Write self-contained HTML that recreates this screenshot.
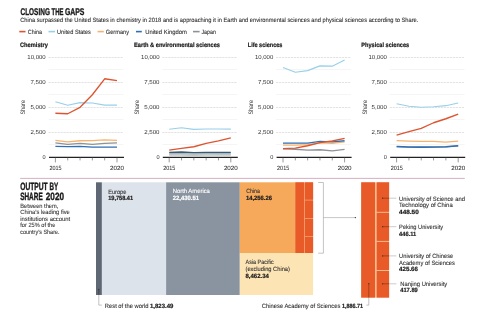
<!DOCTYPE html>
<html><head><meta charset="utf-8"><style>
html,body{margin:0;padding:0;background:#fff;width:500px;height:319px;overflow:hidden}
svg{display:block;font-family:"Liberation Sans", sans-serif;text-rendering:geometricPrecision;will-change:transform}
</style></head><body>
<svg width="500" height="319" viewBox="0 0 500 319">
<rect width="500" height="319" fill="#fff"/>
<text x="20.50" y="14.90" font-size="9.7" font-weight="700" fill="#1a1a1a" text-anchor="start" textLength="29.40" lengthAdjust="spacingAndGlyphs" stroke="#1a1a1a" stroke-width="0.35">CLOSING</text>
<text x="51.60" y="14.90" font-size="9.7" font-weight="700" fill="#1a1a1a" text-anchor="start" textLength="11.90" lengthAdjust="spacingAndGlyphs" stroke="#1a1a1a" stroke-width="0.35">THE</text>
<text x="64.90" y="14.90" font-size="9.7" font-weight="700" fill="#1a1a1a" text-anchor="start" textLength="19.60" lengthAdjust="spacingAndGlyphs" stroke="#1a1a1a" stroke-width="0.35">GAPS</text>
<text x="20.20" y="21.70" font-size="6.2" font-weight="400" fill="#333333" text-anchor="start" textLength="398.20" lengthAdjust="spacingAndGlyphs" stroke="#333333" stroke-width="0.1">China surpassed the United States in chemistry in 2018 and is approaching it in Earth and environmental sciences and physical sciences according to Share.</text>
<line x1="19.30" y1="31.60" x2="25.50" y2="31.60" stroke="#dd5530" stroke-width="1.6"/>
<text x="27.80" y="33.70" font-size="6.2" font-weight="400" fill="#333333" text-anchor="start" textLength="14.20" lengthAdjust="spacingAndGlyphs" stroke="#333333" stroke-width="0.1">China</text>
<line x1="48.50" y1="31.60" x2="55.00" y2="31.60" stroke="#98d0ea" stroke-width="1.6"/>
<text x="57.00" y="33.70" font-size="6.2" font-weight="400" fill="#333333" text-anchor="start" textLength="33.90" lengthAdjust="spacingAndGlyphs" stroke="#333333" stroke-width="0.1">United States</text>
<line x1="97.60" y1="31.60" x2="103.80" y2="31.60" stroke="#f5b46e" stroke-width="1.6"/>
<text x="105.80" y="33.70" font-size="6.2" font-weight="400" fill="#333333" text-anchor="start" textLength="23.20" lengthAdjust="spacingAndGlyphs" stroke="#333333" stroke-width="0.1">Germany</text>
<line x1="136.00" y1="31.60" x2="141.80" y2="31.60" stroke="#2f6fb3" stroke-width="1.6"/>
<text x="145.20" y="33.70" font-size="6.2" font-weight="400" fill="#333333" text-anchor="start" textLength="41.70" lengthAdjust="spacingAndGlyphs" stroke="#333333" stroke-width="0.1">United Kingdom</text>
<line x1="193.00" y1="31.60" x2="199.60" y2="31.60" stroke="#8d9298" stroke-width="1.6"/>
<text x="201.40" y="33.70" font-size="6.2" font-weight="400" fill="#333333" text-anchor="start" textLength="14.60" lengthAdjust="spacingAndGlyphs" stroke="#333333" stroke-width="0.1">Japan</text>
<text x="20.00" y="46.90" font-size="6.3" font-weight="700" fill="#1a1a1a" text-anchor="start" textLength="27.90" lengthAdjust="spacingAndGlyphs" stroke="#1a1a1a" stroke-width="0.2">Chemistry</text>
<line x1="48.50" y1="144.50" x2="123.40" y2="144.50" stroke="#f1f1f1" stroke-width="0.7"/>
<line x1="48.50" y1="119.50" x2="123.40" y2="119.50" stroke="#f1f1f1" stroke-width="0.7"/>
<line x1="48.50" y1="94.50" x2="123.40" y2="94.50" stroke="#f1f1f1" stroke-width="0.7"/>
<line x1="48.50" y1="69.50" x2="123.40" y2="69.50" stroke="#f1f1f1" stroke-width="0.7"/>
<line x1="48.50" y1="132.50" x2="123.40" y2="132.50" stroke="#c4c4c4" stroke-width="0.5" stroke-dasharray="2.2 0.8"/>
<line x1="48.50" y1="107.50" x2="123.40" y2="107.50" stroke="#c4c4c4" stroke-width="0.5" stroke-dasharray="2.2 0.8"/>
<line x1="48.50" y1="82.50" x2="123.40" y2="82.50" stroke="#c4c4c4" stroke-width="0.5" stroke-dasharray="2.2 0.8"/>
<line x1="48.50" y1="57.50" x2="123.40" y2="57.50" stroke="#c4c4c4" stroke-width="0.5" stroke-dasharray="2.2 0.8"/>
<text x="45.70" y="59.00" font-size="5.9" font-weight="400" fill="#333333" text-anchor="end" textLength="18.40" lengthAdjust="spacingAndGlyphs">10,000</text>
<text x="45.70" y="84.10" font-size="5.9" font-weight="400" fill="#333333" text-anchor="end" textLength="15.30" lengthAdjust="spacingAndGlyphs">7,500</text>
<text x="45.70" y="109.20" font-size="5.9" font-weight="400" fill="#333333" text-anchor="end" textLength="15.30" lengthAdjust="spacingAndGlyphs">5,000</text>
<text x="45.70" y="134.30" font-size="5.9" font-weight="400" fill="#333333" text-anchor="end" textLength="15.30" lengthAdjust="spacingAndGlyphs">2,500</text>
<text x="45.70" y="159.40" font-size="5.9" font-weight="400" fill="#333333" text-anchor="end" textLength="3.10" lengthAdjust="spacingAndGlyphs">0</text>
<text x="25.40" y="107.30" font-size="6.4" font-weight="400" fill="#333333" text-anchor="middle" textLength="14.40" lengthAdjust="spacingAndGlyphs" transform="rotate(-90 25.40 107.3)">Share</text>
<polyline points="55.40,140.33 67.72,141.84 80.04,140.73 92.36,140.53 104.68,139.93 117.00,140.33" fill="none" stroke="#f5b46e" stroke-width="1.3" stroke-linejoin="round"/>
<polyline points="55.40,146.36 67.72,146.66 80.04,146.36 92.36,147.16 104.68,147.16 117.00,147.16" fill="none" stroke="#2f6fb3" stroke-width="1.4" stroke-linejoin="round"/>
<polyline points="55.40,142.84 67.72,144.35 80.04,143.34 92.36,144.35 104.68,143.34 117.00,142.84" fill="none" stroke="#8d9298" stroke-width="1.3" stroke-linejoin="round"/>
<polyline points="55.40,101.68 67.72,105.19 80.04,102.68 92.36,102.98 104.68,105.19 117.00,105.19" fill="none" stroke="#98d0ea" stroke-width="1.15" stroke-linejoin="round"/>
<polyline points="55.40,113.22 67.72,113.73 80.04,107.30 92.36,94.75 104.68,78.79 117.00,80.69" fill="none" stroke="#dd5530" stroke-width="1.35" stroke-linejoin="round"/>
<line x1="49.00" y1="157.40" x2="124.00" y2="157.40" stroke="#222" stroke-width="1.1"/>
<line x1="55.40" y1="157.40" x2="55.40" y2="162.40" stroke="#555" stroke-width="0.6"/>
<line x1="67.72" y1="157.40" x2="67.72" y2="160.40" stroke="#555" stroke-width="0.6"/>
<line x1="80.04" y1="157.40" x2="80.04" y2="160.40" stroke="#555" stroke-width="0.6"/>
<line x1="92.36" y1="157.40" x2="92.36" y2="160.40" stroke="#555" stroke-width="0.6"/>
<line x1="104.68" y1="157.40" x2="104.68" y2="160.40" stroke="#555" stroke-width="0.6"/>
<line x1="117.00" y1="157.40" x2="117.00" y2="162.40" stroke="#555" stroke-width="0.6"/>
<text x="49.50" y="169.50" font-size="6.1" font-weight="400" fill="#333333" text-anchor="start" textLength="12.10" lengthAdjust="spacingAndGlyphs" stroke="#333333" stroke-width="0.05">2015</text>
<text x="110.10" y="169.50" font-size="6.1" font-weight="400" fill="#333333" text-anchor="start" textLength="13.90" lengthAdjust="spacingAndGlyphs" stroke="#333333" stroke-width="0.05">2020</text>
<text x="134.00" y="46.90" font-size="6.3" font-weight="700" fill="#1a1a1a" text-anchor="start" textLength="86.00" lengthAdjust="spacingAndGlyphs" stroke="#1a1a1a" stroke-width="0.2">Earth &amp; environmental sciences</text>
<line x1="162.30" y1="144.50" x2="237.20" y2="144.50" stroke="#f1f1f1" stroke-width="0.7"/>
<line x1="162.30" y1="119.50" x2="237.20" y2="119.50" stroke="#f1f1f1" stroke-width="0.7"/>
<line x1="162.30" y1="94.50" x2="237.20" y2="94.50" stroke="#f1f1f1" stroke-width="0.7"/>
<line x1="162.30" y1="69.50" x2="237.20" y2="69.50" stroke="#f1f1f1" stroke-width="0.7"/>
<line x1="162.30" y1="132.50" x2="237.20" y2="132.50" stroke="#c4c4c4" stroke-width="0.5" stroke-dasharray="2.2 0.8"/>
<line x1="162.30" y1="107.50" x2="237.20" y2="107.50" stroke="#c4c4c4" stroke-width="0.5" stroke-dasharray="2.2 0.8"/>
<line x1="162.30" y1="82.50" x2="237.20" y2="82.50" stroke="#c4c4c4" stroke-width="0.5" stroke-dasharray="2.2 0.8"/>
<line x1="162.30" y1="57.50" x2="237.20" y2="57.50" stroke="#c4c4c4" stroke-width="0.5" stroke-dasharray="2.2 0.8"/>
<text x="159.50" y="59.00" font-size="5.9" font-weight="400" fill="#333333" text-anchor="end" textLength="18.40" lengthAdjust="spacingAndGlyphs">10,000</text>
<text x="159.50" y="84.10" font-size="5.9" font-weight="400" fill="#333333" text-anchor="end" textLength="15.30" lengthAdjust="spacingAndGlyphs">7,500</text>
<text x="159.50" y="109.20" font-size="5.9" font-weight="400" fill="#333333" text-anchor="end" textLength="15.30" lengthAdjust="spacingAndGlyphs">5,000</text>
<text x="159.50" y="134.30" font-size="5.9" font-weight="400" fill="#333333" text-anchor="end" textLength="15.30" lengthAdjust="spacingAndGlyphs">2,500</text>
<text x="159.50" y="159.40" font-size="5.9" font-weight="400" fill="#333333" text-anchor="end" textLength="3.10" lengthAdjust="spacingAndGlyphs">0</text>
<text x="139.20" y="107.30" font-size="6.4" font-weight="400" fill="#333333" text-anchor="middle" textLength="14.40" lengthAdjust="spacingAndGlyphs" transform="rotate(-90 139.20 107.3)">Share</text>
<polyline points="169.20,154.99 181.52,155.09 193.84,155.19 206.16,155.09 218.48,154.99 230.80,154.99" fill="none" stroke="#c3c6c2" stroke-width="1.4" stroke-linejoin="round"/>
<polyline points="169.20,153.69 181.52,153.79 193.84,153.99 206.16,153.79 218.48,153.69 230.80,153.69" fill="none" stroke="#a6b8c3" stroke-width="1.4" stroke-linejoin="round"/>
<polyline points="169.20,152.38 181.52,151.98 193.84,152.68 206.16,152.38 218.48,152.28 230.80,152.28" fill="none" stroke="#3e5a6e" stroke-width="1.3" stroke-linejoin="round"/>
<polyline points="169.20,129.29 181.52,127.78 193.84,129.39 206.16,128.99 218.48,128.99 230.80,129.19" fill="none" stroke="#98d0ea" stroke-width="1.15" stroke-linejoin="round"/>
<polyline points="169.20,150.17 181.52,148.36 193.84,146.76 206.16,143.34 218.48,140.83 230.80,137.82" fill="none" stroke="#dd5530" stroke-width="1.35" stroke-linejoin="round"/>
<line x1="162.80" y1="157.40" x2="237.80" y2="157.40" stroke="#222" stroke-width="1.1"/>
<line x1="169.20" y1="157.40" x2="169.20" y2="162.40" stroke="#555" stroke-width="0.6"/>
<line x1="181.52" y1="157.40" x2="181.52" y2="160.40" stroke="#555" stroke-width="0.6"/>
<line x1="193.84" y1="157.40" x2="193.84" y2="160.40" stroke="#555" stroke-width="0.6"/>
<line x1="206.16" y1="157.40" x2="206.16" y2="160.40" stroke="#555" stroke-width="0.6"/>
<line x1="218.48" y1="157.40" x2="218.48" y2="160.40" stroke="#555" stroke-width="0.6"/>
<line x1="230.80" y1="157.40" x2="230.80" y2="162.40" stroke="#555" stroke-width="0.6"/>
<text x="163.30" y="169.50" font-size="6.1" font-weight="400" fill="#333333" text-anchor="start" textLength="12.10" lengthAdjust="spacingAndGlyphs" stroke="#333333" stroke-width="0.05">2015</text>
<text x="223.90" y="169.50" font-size="6.1" font-weight="400" fill="#333333" text-anchor="start" textLength="13.90" lengthAdjust="spacingAndGlyphs" stroke="#333333" stroke-width="0.05">2020</text>
<text x="247.80" y="46.90" font-size="6.3" font-weight="700" fill="#1a1a1a" text-anchor="start" textLength="34.60" lengthAdjust="spacingAndGlyphs" stroke="#1a1a1a" stroke-width="0.2">Life sciences</text>
<line x1="276.10" y1="144.50" x2="351.00" y2="144.50" stroke="#f1f1f1" stroke-width="0.7"/>
<line x1="276.10" y1="119.50" x2="351.00" y2="119.50" stroke="#f1f1f1" stroke-width="0.7"/>
<line x1="276.10" y1="94.50" x2="351.00" y2="94.50" stroke="#f1f1f1" stroke-width="0.7"/>
<line x1="276.10" y1="69.50" x2="351.00" y2="69.50" stroke="#f1f1f1" stroke-width="0.7"/>
<line x1="276.10" y1="132.50" x2="351.00" y2="132.50" stroke="#c4c4c4" stroke-width="0.5" stroke-dasharray="2.2 0.8"/>
<line x1="276.10" y1="107.50" x2="351.00" y2="107.50" stroke="#c4c4c4" stroke-width="0.5" stroke-dasharray="2.2 0.8"/>
<line x1="276.10" y1="82.50" x2="351.00" y2="82.50" stroke="#c4c4c4" stroke-width="0.5" stroke-dasharray="2.2 0.8"/>
<line x1="276.10" y1="57.50" x2="351.00" y2="57.50" stroke="#c4c4c4" stroke-width="0.5" stroke-dasharray="2.2 0.8"/>
<text x="273.30" y="59.00" font-size="5.9" font-weight="400" fill="#333333" text-anchor="end" textLength="18.40" lengthAdjust="spacingAndGlyphs">10,000</text>
<text x="273.30" y="84.10" font-size="5.9" font-weight="400" fill="#333333" text-anchor="end" textLength="15.30" lengthAdjust="spacingAndGlyphs">7,500</text>
<text x="273.30" y="109.20" font-size="5.9" font-weight="400" fill="#333333" text-anchor="end" textLength="15.30" lengthAdjust="spacingAndGlyphs">5,000</text>
<text x="273.30" y="134.30" font-size="5.9" font-weight="400" fill="#333333" text-anchor="end" textLength="15.30" lengthAdjust="spacingAndGlyphs">2,500</text>
<text x="273.30" y="159.40" font-size="5.9" font-weight="400" fill="#333333" text-anchor="end" textLength="3.10" lengthAdjust="spacingAndGlyphs">0</text>
<text x="253.00" y="107.30" font-size="6.4" font-weight="400" fill="#333333" text-anchor="middle" textLength="14.40" lengthAdjust="spacingAndGlyphs" transform="rotate(-90 253.00 107.3)">Share</text>
<polyline points="283.00,145.05 295.32,145.05 307.64,144.75 319.96,142.84 332.28,143.34 344.60,141.84" fill="none" stroke="#f5b46e" stroke-width="1.3" stroke-linejoin="round"/>
<polyline points="283.00,143.14 295.32,143.14 307.64,143.14 319.96,141.34 332.28,141.84 344.60,140.73" fill="none" stroke="#2f6fb3" stroke-width="1.4" stroke-linejoin="round"/>
<polyline points="283.00,148.97 295.32,149.27 307.64,150.07 319.96,149.77 332.28,150.87 344.60,149.37" fill="none" stroke="#8d9298" stroke-width="1.3" stroke-linejoin="round"/>
<polyline points="283.00,67.54 295.32,72.26 307.64,70.65 319.96,65.84 332.28,66.14 344.60,60.01" fill="none" stroke="#98d0ea" stroke-width="1.15" stroke-linejoin="round"/>
<polyline points="283.00,148.67 295.32,148.16 307.64,145.75 319.96,142.64 332.28,141.03 344.60,138.32" fill="none" stroke="#dd5530" stroke-width="1.35" stroke-linejoin="round"/>
<line x1="276.60" y1="157.40" x2="351.60" y2="157.40" stroke="#222" stroke-width="1.1"/>
<line x1="283.00" y1="157.40" x2="283.00" y2="162.40" stroke="#555" stroke-width="0.6"/>
<line x1="295.32" y1="157.40" x2="295.32" y2="160.40" stroke="#555" stroke-width="0.6"/>
<line x1="307.64" y1="157.40" x2="307.64" y2="160.40" stroke="#555" stroke-width="0.6"/>
<line x1="319.96" y1="157.40" x2="319.96" y2="160.40" stroke="#555" stroke-width="0.6"/>
<line x1="332.28" y1="157.40" x2="332.28" y2="160.40" stroke="#555" stroke-width="0.6"/>
<line x1="344.60" y1="157.40" x2="344.60" y2="162.40" stroke="#555" stroke-width="0.6"/>
<text x="277.10" y="169.50" font-size="6.1" font-weight="400" fill="#333333" text-anchor="start" textLength="12.10" lengthAdjust="spacingAndGlyphs" stroke="#333333" stroke-width="0.05">2015</text>
<text x="337.70" y="169.50" font-size="6.1" font-weight="400" fill="#333333" text-anchor="start" textLength="13.90" lengthAdjust="spacingAndGlyphs" stroke="#333333" stroke-width="0.05">2020</text>
<text x="361.30" y="46.90" font-size="6.3" font-weight="700" fill="#1a1a1a" text-anchor="start" textLength="47.90" lengthAdjust="spacingAndGlyphs" stroke="#1a1a1a" stroke-width="0.2">Physical sciences</text>
<line x1="389.70" y1="144.50" x2="464.60" y2="144.50" stroke="#f1f1f1" stroke-width="0.7"/>
<line x1="389.70" y1="119.50" x2="464.60" y2="119.50" stroke="#f1f1f1" stroke-width="0.7"/>
<line x1="389.70" y1="94.50" x2="464.60" y2="94.50" stroke="#f1f1f1" stroke-width="0.7"/>
<line x1="389.70" y1="69.50" x2="464.60" y2="69.50" stroke="#f1f1f1" stroke-width="0.7"/>
<line x1="389.70" y1="132.50" x2="464.60" y2="132.50" stroke="#c4c4c4" stroke-width="0.5" stroke-dasharray="2.2 0.8"/>
<line x1="389.70" y1="107.50" x2="464.60" y2="107.50" stroke="#c4c4c4" stroke-width="0.5" stroke-dasharray="2.2 0.8"/>
<line x1="389.70" y1="82.50" x2="464.60" y2="82.50" stroke="#c4c4c4" stroke-width="0.5" stroke-dasharray="2.2 0.8"/>
<line x1="389.70" y1="57.50" x2="464.60" y2="57.50" stroke="#c4c4c4" stroke-width="0.5" stroke-dasharray="2.2 0.8"/>
<text x="386.90" y="59.00" font-size="5.9" font-weight="400" fill="#333333" text-anchor="end" textLength="18.40" lengthAdjust="spacingAndGlyphs">10,000</text>
<text x="386.90" y="84.10" font-size="5.9" font-weight="400" fill="#333333" text-anchor="end" textLength="15.30" lengthAdjust="spacingAndGlyphs">7,500</text>
<text x="386.90" y="109.20" font-size="5.9" font-weight="400" fill="#333333" text-anchor="end" textLength="15.30" lengthAdjust="spacingAndGlyphs">5,000</text>
<text x="386.90" y="134.30" font-size="5.9" font-weight="400" fill="#333333" text-anchor="end" textLength="15.30" lengthAdjust="spacingAndGlyphs">2,500</text>
<text x="386.90" y="159.40" font-size="5.9" font-weight="400" fill="#333333" text-anchor="end" textLength="3.10" lengthAdjust="spacingAndGlyphs">0</text>
<text x="366.60" y="107.30" font-size="6.4" font-weight="400" fill="#333333" text-anchor="middle" textLength="14.40" lengthAdjust="spacingAndGlyphs" transform="rotate(-90 366.60 107.3)">Share</text>
<polyline points="396.60,146.76 408.92,147.26 421.24,147.36 433.56,147.26 445.88,146.96 458.20,145.95" fill="none" stroke="#8d9298" stroke-width="1.2" stroke-linejoin="round"/>
<polyline points="396.60,140.53 408.92,141.03 421.24,141.34 433.56,141.34 445.88,142.04 458.20,141.03" fill="none" stroke="#f5b46e" stroke-width="1.2" stroke-linejoin="round"/>
<polyline points="396.60,146.56 408.92,147.06 421.24,147.16 433.56,147.06 445.88,146.76 458.20,145.75" fill="none" stroke="#2f6fb3" stroke-width="1.6" stroke-linejoin="round"/>
<polyline points="396.60,103.69 408.92,106.20 421.24,107.20 433.56,106.70 445.88,105.69 458.20,102.98" fill="none" stroke="#98d0ea" stroke-width="1.15" stroke-linejoin="round"/>
<polyline points="396.60,135.11 408.92,131.70 421.24,128.38 433.56,122.76 445.88,118.75 458.20,114.03" fill="none" stroke="#dd5530" stroke-width="1.35" stroke-linejoin="round"/>
<line x1="390.20" y1="157.40" x2="465.20" y2="157.40" stroke="#222" stroke-width="1.1"/>
<line x1="396.60" y1="157.40" x2="396.60" y2="162.40" stroke="#555" stroke-width="0.6"/>
<line x1="408.92" y1="157.40" x2="408.92" y2="160.40" stroke="#555" stroke-width="0.6"/>
<line x1="421.24" y1="157.40" x2="421.24" y2="160.40" stroke="#555" stroke-width="0.6"/>
<line x1="433.56" y1="157.40" x2="433.56" y2="160.40" stroke="#555" stroke-width="0.6"/>
<line x1="445.88" y1="157.40" x2="445.88" y2="160.40" stroke="#555" stroke-width="0.6"/>
<line x1="458.20" y1="157.40" x2="458.20" y2="162.40" stroke="#555" stroke-width="0.6"/>
<text x="390.70" y="169.50" font-size="6.1" font-weight="400" fill="#333333" text-anchor="start" textLength="12.10" lengthAdjust="spacingAndGlyphs" stroke="#333333" stroke-width="0.05">2015</text>
<text x="451.30" y="169.50" font-size="6.1" font-weight="400" fill="#333333" text-anchor="start" textLength="13.90" lengthAdjust="spacingAndGlyphs" stroke="#333333" stroke-width="0.05">2020</text>
<line x1="20.10" y1="178.40" x2="464.80" y2="178.40" stroke="#cc9cb0" stroke-width="0.8"/>
<text x="20.20" y="189.90" font-size="10.6" font-weight="700" fill="#1a1a1a" text-anchor="start" textLength="27.50" lengthAdjust="spacingAndGlyphs" stroke="#1a1a1a" stroke-width="0.4">OUTPUT</text>
<text x="49.60" y="189.90" font-size="10.6" font-weight="700" fill="#1a1a1a" text-anchor="start" textLength="8.70" lengthAdjust="spacingAndGlyphs" stroke="#1a1a1a" stroke-width="0.4">BY</text>
<text x="20.20" y="200.20" font-size="10.6" font-weight="700" fill="#1a1a1a" text-anchor="start" textLength="22.50" lengthAdjust="spacingAndGlyphs" stroke="#1a1a1a" stroke-width="0.4">SHARE</text>
<text x="45.80" y="200.20" font-size="10.6" font-weight="700" fill="#1a1a1a" text-anchor="start" textLength="18.20" lengthAdjust="spacingAndGlyphs" stroke="#1a1a1a" stroke-width="0.4">2020</text>
<text x="20.30" y="207.60" font-size="6.2" font-weight="400" fill="#333333" text-anchor="start" textLength="38.00" lengthAdjust="spacingAndGlyphs" stroke="#333333" stroke-width="0.08">Between them,</text>
<text x="20.30" y="214.30" font-size="6.2" font-weight="400" fill="#333333" text-anchor="start" textLength="49.50" lengthAdjust="spacingAndGlyphs" stroke="#333333" stroke-width="0.08">China’s leading five</text>
<text x="20.30" y="220.80" font-size="6.2" font-weight="400" fill="#333333" text-anchor="start" textLength="49.90" lengthAdjust="spacingAndGlyphs" stroke="#333333" stroke-width="0.08">institutions account</text>
<text x="20.30" y="227.30" font-size="6.2" font-weight="400" fill="#333333" text-anchor="start" textLength="35.10" lengthAdjust="spacingAndGlyphs" stroke="#333333" stroke-width="0.08">for 25% of the</text>
<text x="20.30" y="234.00" font-size="6.2" font-weight="400" fill="#333333" text-anchor="start" textLength="39.20" lengthAdjust="spacingAndGlyphs" stroke="#333333" stroke-width="0.08">country’s Share.</text>
<rect x="96.00" y="182.30" width="5.90" height="112.70" fill="#5e6773"/>
<rect x="101.90" y="182.30" width="64.20" height="112.70" fill="#dde3ea"/>
<rect x="166.10" y="182.30" width="73.70" height="112.70" fill="#8a94a0"/>
<rect x="239.80" y="182.30" width="55.50" height="70.70" fill="#f6a95b"/>
<rect x="239.80" y="253.00" width="73.30" height="42.00" fill="#fde4b4"/>
<rect x="295.30" y="182.30" width="17.80" height="70.70" fill="#f6a878"/>
<rect x="295.30" y="182.30" width="8.80" height="70.70" fill="#e85b29"/>
<rect x="304.90" y="182.30" width="8.20" height="17.45" fill="#e85b29"/>
<rect x="304.90" y="200.45" width="8.20" height="17.60" fill="#e85b29"/>
<rect x="304.90" y="218.75" width="8.20" height="17.30" fill="#e85b29"/>
<rect x="304.90" y="236.75" width="8.20" height="16.25" fill="#e85b29"/>
<text x="108.20" y="193.60" font-size="6.2" font-weight="400" fill="#333333" text-anchor="start" textLength="18.20" lengthAdjust="spacingAndGlyphs" stroke="#333333" stroke-width="0.1">Europe</text>
<text x="108.20" y="200.20" font-size="6.2" font-weight="700" fill="#1a1a1a" text-anchor="start" textLength="24.80" lengthAdjust="spacingAndGlyphs" stroke="#1a1a1a" stroke-width="0.2">19,758.41</text>
<text x="172.70" y="193.40" font-size="6.2" font-weight="400" fill="#ffffff" text-anchor="start" textLength="37.20" lengthAdjust="spacingAndGlyphs" stroke="#ffffff" stroke-width="0.1">North America</text>
<text x="172.70" y="200.30" font-size="6.2" font-weight="700" fill="#ffffff" text-anchor="start" textLength="26.40" lengthAdjust="spacingAndGlyphs" stroke="#ffffff" stroke-width="0.2">22,430.51</text>
<text x="246.20" y="193.40" font-size="6.2" font-weight="400" fill="#333333" text-anchor="start" textLength="13.70" lengthAdjust="spacingAndGlyphs" stroke="#333333" stroke-width="0.1">China</text>
<text x="246.00" y="200.30" font-size="6.2" font-weight="700" fill="#1a1a1a" text-anchor="start" textLength="26.00" lengthAdjust="spacingAndGlyphs" stroke="#1a1a1a" stroke-width="0.2">14,256.26</text>
<text x="245.50" y="264.10" font-size="6.2" font-weight="400" fill="#333333" text-anchor="start" textLength="28.10" lengthAdjust="spacingAndGlyphs" stroke="#333333" stroke-width="0.1">Asia Pacific</text>
<text x="245.50" y="270.70" font-size="6.2" font-weight="400" fill="#333333" text-anchor="start" textLength="44.40" lengthAdjust="spacingAndGlyphs" stroke="#333333" stroke-width="0.1">(excluding China)</text>
<text x="245.50" y="277.80" font-size="6.2" font-weight="700" fill="#1a1a1a" text-anchor="start" textLength="23.40" lengthAdjust="spacingAndGlyphs" stroke="#1a1a1a" stroke-width="0.2">8,462.34</text>
<circle cx="98.8" cy="289.4" r="0.6" fill="#333"/>
<polyline points="98.8,294.7 98.8,305.1 101.9,305.1" fill="none" stroke="#9a9a9a" stroke-width="0.6"/>
<line x1="98.80" y1="289.40" x2="98.80" y2="294.70" stroke="#333" stroke-width="0.6"/>
<text x="104.80" y="307.50" font-size="6.2" font-weight="400" fill="#333333" text-anchor="start" textLength="43.60" lengthAdjust="spacingAndGlyphs" stroke="#333333" stroke-width="0.1">Rest of the world</text>
<text x="150.00" y="307.50" font-size="6.2" font-weight="700" fill="#1a1a1a" text-anchor="start" textLength="23.30" lengthAdjust="spacingAndGlyphs" stroke="#1a1a1a" stroke-width="0.2">1,823.49</text>
<polyline points="318.2,182.5 323.4,182.5 323.4,253.2 318.2,253.2" fill="none" stroke="#ababab" stroke-width="0.7"/>
<line x1="323.40" y1="217.60" x2="355.40" y2="217.60" stroke="#a0a0a0" stroke-width="0.6"/>
<circle cx="355.4" cy="217.6" r="0.7" fill="#333"/>
<rect x="361.20" y="182.30" width="27.90" height="115.30" fill="#f8b98c"/>
<rect x="361.20" y="182.30" width="13.80" height="115.30" fill="#e85b29"/>
<rect x="376.70" y="182.30" width="12.40" height="29.50" fill="#e85b29"/>
<rect x="376.70" y="212.80" width="12.40" height="28.10" fill="#e85b29"/>
<rect x="376.70" y="241.90" width="12.40" height="28.10" fill="#e85b29"/>
<rect x="376.70" y="271.00" width="12.40" height="26.60" fill="#e85b29"/>
<circle cx="382.6" cy="198.2" r="0.6" fill="#333"/>
<line x1="389.10" y1="198.20" x2="396.40" y2="198.20" stroke="#aaa" stroke-width="0.6"/>
<line x1="382.60" y1="198.20" x2="389.10" y2="198.20" stroke="#7a2e10" stroke-width="0.6"/>
<circle cx="382.6" cy="226.7" r="0.6" fill="#333"/>
<line x1="389.10" y1="226.70" x2="396.40" y2="226.70" stroke="#aaa" stroke-width="0.6"/>
<line x1="382.60" y1="226.70" x2="389.10" y2="226.70" stroke="#7a2e10" stroke-width="0.6"/>
<circle cx="382.6" cy="255.9" r="0.6" fill="#333"/>
<line x1="389.10" y1="255.90" x2="396.40" y2="255.90" stroke="#aaa" stroke-width="0.6"/>
<line x1="382.60" y1="255.90" x2="389.10" y2="255.90" stroke="#7a2e10" stroke-width="0.6"/>
<circle cx="382.6" cy="283.8" r="0.6" fill="#333"/>
<line x1="389.10" y1="283.80" x2="396.40" y2="283.80" stroke="#aaa" stroke-width="0.6"/>
<line x1="382.60" y1="283.80" x2="389.10" y2="283.80" stroke="#7a2e10" stroke-width="0.6"/>
<circle cx="368.8" cy="283.7" r="0.6" fill="#333"/>
<polyline points="368.8,297.6 368.8,305.1 366.3,305.1" fill="none" stroke="#9a9a9a" stroke-width="0.6"/>
<line x1="368.80" y1="283.70" x2="368.80" y2="297.60" stroke="#7a2e10" stroke-width="0.6"/>
<text x="261.80" y="307.70" font-size="6.2" font-weight="400" fill="#333333" text-anchor="start" textLength="78.50" lengthAdjust="spacingAndGlyphs" stroke="#333333" stroke-width="0.1">Chinese Academy of Sciences</text>
<text x="341.90" y="307.70" font-size="6.2" font-weight="700" fill="#1a1a1a" text-anchor="start" textLength="21.10" lengthAdjust="spacingAndGlyphs" stroke="#1a1a1a" stroke-width="0.2">1,886.71</text>
<text x="399.10" y="200.90" font-size="6.2" font-weight="400" fill="#333333" text-anchor="start" textLength="65.90" lengthAdjust="spacingAndGlyphs" stroke="#333333" stroke-width="0.1">University of Science and</text>
<text x="399.10" y="207.30" font-size="6.2" font-weight="400" fill="#333333" text-anchor="start" textLength="53.60" lengthAdjust="spacingAndGlyphs" stroke="#333333" stroke-width="0.1">Technology of China</text>
<text x="399.10" y="214.00" font-size="6.2" font-weight="700" fill="#1a1a1a" text-anchor="start" textLength="19.70" lengthAdjust="spacingAndGlyphs" stroke="#1a1a1a" stroke-width="0.2">448.50</text>
<text x="399.10" y="229.10" font-size="6.2" font-weight="400" fill="#333333" text-anchor="start" textLength="44.00" lengthAdjust="spacingAndGlyphs" stroke="#333333" stroke-width="0.1">Peking University</text>
<text x="399.10" y="235.50" font-size="6.2" font-weight="700" fill="#1a1a1a" text-anchor="start" textLength="17.20" lengthAdjust="spacingAndGlyphs" stroke="#1a1a1a" stroke-width="0.2">446.11</text>
<text x="399.10" y="257.90" font-size="6.2" font-weight="400" fill="#333333" text-anchor="start" textLength="54.10" lengthAdjust="spacingAndGlyphs" stroke="#333333" stroke-width="0.1">University of Chinese</text>
<text x="399.10" y="264.60" font-size="6.2" font-weight="400" fill="#333333" text-anchor="start" textLength="55.90" lengthAdjust="spacingAndGlyphs" stroke="#333333" stroke-width="0.1">Academy of Sciences</text>
<text x="399.10" y="271.20" font-size="6.2" font-weight="700" fill="#1a1a1a" text-anchor="start" textLength="18.90" lengthAdjust="spacingAndGlyphs" stroke="#1a1a1a" stroke-width="0.2">425.66</text>
<text x="400.20" y="286.10" font-size="6.2" font-weight="400" fill="#333333" text-anchor="start" textLength="47.10" lengthAdjust="spacingAndGlyphs" stroke="#333333" stroke-width="0.1">Nanjing University</text>
<text x="400.20" y="292.40" font-size="6.2" font-weight="700" fill="#1a1a1a" text-anchor="start" textLength="17.60" lengthAdjust="spacingAndGlyphs" stroke="#1a1a1a" stroke-width="0.2">417.89</text>
</svg></body></html>
